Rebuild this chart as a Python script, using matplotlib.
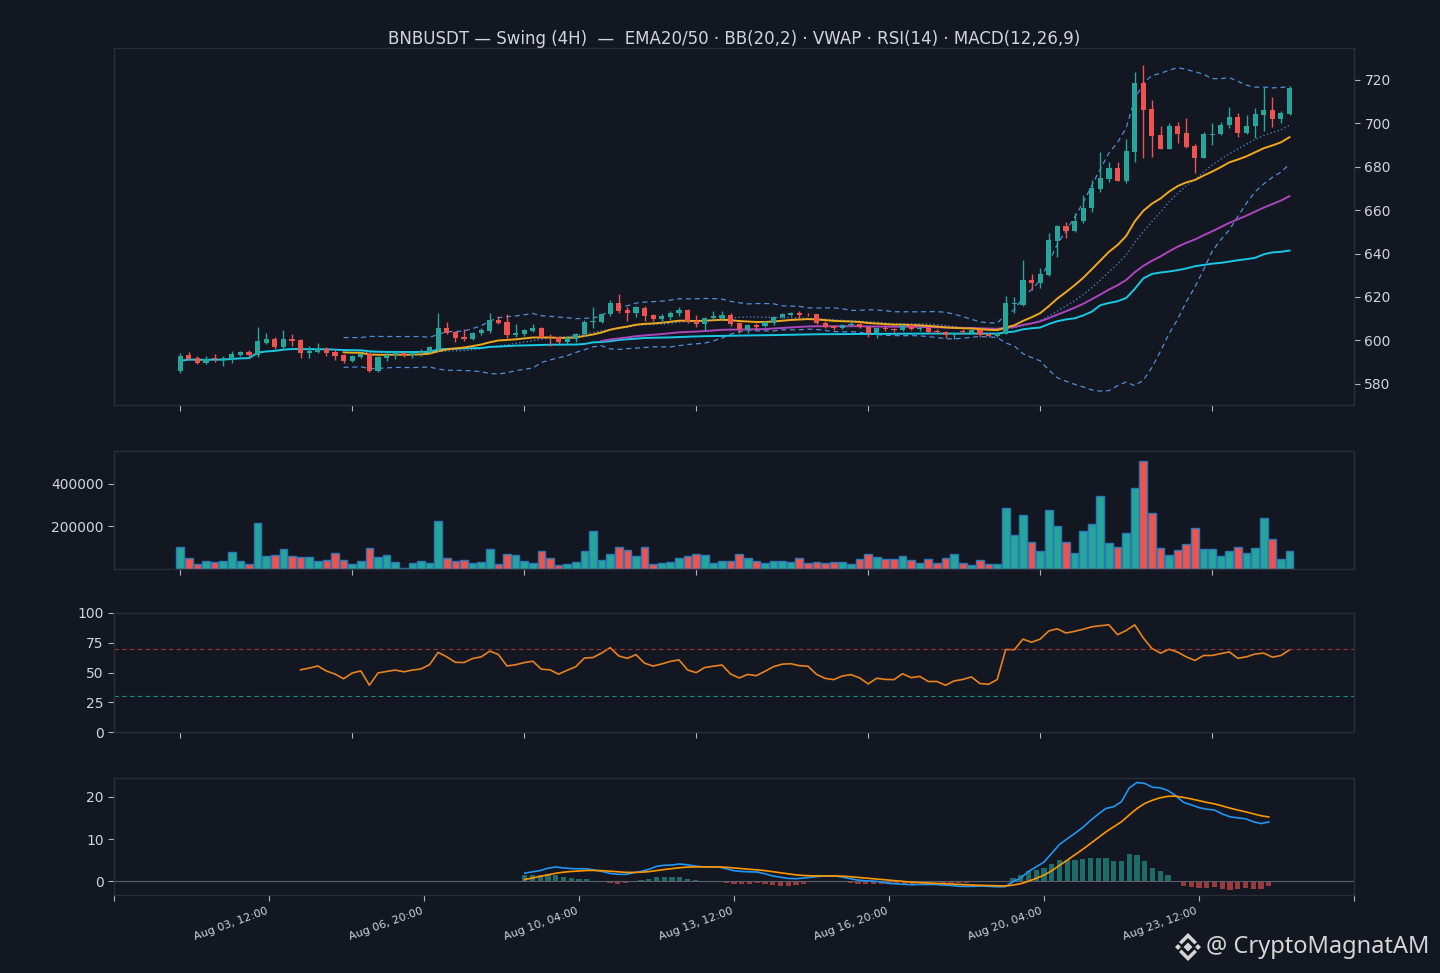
import numpy as np
import pandas as pd
import matplotlib
matplotlib.use('Agg')
import matplotlib.pyplot as plt
from matplotlib.patches import Polygon
from matplotlib.ticker import FuncFormatter

# ---------------- data (BNBUSDT 4H candles)
opens = [586.0, 593.1, 592.0, 589.4, 591.8, 591.0, 591.6, 593.1, 594.6, 593.2,
         598.9, 600.5, 596.9, 600.5, 600.0, 594.3, 594.6, 595.9, 594.6, 593.1,
         590.3, 592.2, 593.8, 585.9, 591.8, 593.2, 594.0, 593.1, 594.0, 594.8,
         595.9, 605.5, 603.8, 601.5, 600.5, 603.2, 604.1, 609.2, 608.4, 602.3,
         602.8, 604.3, 605.5, 601.7, 601.5, 599.2, 600.8, 602.8, 608.6, 608.4,
         612.0, 617.1, 614.0, 612.4, 615.0, 611.5, 609.7, 610.8, 612.4, 613.8,
         608.9, 607.4, 610.2, 610.4, 611.9, 607.8, 605.1, 606.9, 606.4, 608.0,
         610.8, 611.8, 612.6, 611.9, 612.0, 608.2, 606.5, 605.7, 607.0, 607.6,
         606.3, 603.2, 605.6, 605.3, 604.9, 606.9, 605.0, 605.8, 604.2, 603.8,
         602.3, 604.5, 603.5, 604.6, 603.0, 602.0, 603.1, 616.6, 616.3, 627.8,
         626.6, 630.1, 645.8, 652.7, 650.6, 655.0, 661.2, 669.6, 674.4, 679.3,
         673.6, 687.0, 718.8, 706.6, 694.6, 688.2, 698.8, 695.4, 689.6, 684.2,
         694.8, 695.1, 699.0, 702.8, 695.7, 698.8, 704.0, 706.2, 702.0, 704.3]
highs = [594.0, 594.5, 593.0, 592.7, 593.5, 593.0, 595.0, 595.3, 595.5, 606.3,
         603.2, 601.5, 604.6, 603.0, 600.7, 597.5, 598.9, 596.7, 595.9, 593.9,
         593.2, 594.3, 594.3, 592.8, 594.5, 595.0, 594.6, 595.0, 595.8, 597.4,
         612.4, 608.4, 604.5, 605.0, 603.9, 605.8, 612.4, 611.2, 612.0, 607.4,
         605.4, 607.4, 606.1, 603.1, 601.9, 601.9, 603.6, 609.2, 615.5, 612.8,
         618.4, 621.2, 615.5, 615.8, 615.8, 612.0, 612.3, 613.3, 615.3, 614.6,
         611.7, 610.8, 613.4, 613.3, 612.4, 608.3, 607.4, 607.8, 608.9, 611.3,
         612.8, 613.1, 613.3, 612.6, 612.3, 609.0, 607.0, 607.4, 608.8, 608.0,
         606.6, 605.8, 607.0, 605.7, 607.2, 607.4, 606.6, 606.1, 605.0, 604.2,
         603.8, 605.0, 605.0, 605.0, 603.5, 603.5, 620.4, 620.1, 637.0, 630.5,
         633.2, 649.4, 653.2, 654.7, 658.6, 667.0, 673.9, 686.7, 682.4, 682.4,
         692.7, 723.5, 726.9, 710.8, 698.8, 700.0, 700.8, 702.3, 690.5, 696.0,
         700.0, 700.8, 707.7, 704.9, 703.9, 707.0, 716.9, 712.3, 705.6, 717.2]
lows = [584.8, 591.0, 589.0, 589.0, 589.8, 588.0, 589.7, 592.8, 592.5, 592.5,
        598.2, 596.0, 596.2, 597.5, 591.8, 591.8, 594.2, 592.7, 590.9, 589.6,
        590.0, 591.8, 585.4, 585.6, 590.5, 591.6, 592.5, 591.7, 592.8, 594.3,
        595.1, 602.7, 599.2, 599.7, 600.2, 602.4, 603.2, 607.3, 601.2, 601.7,
        602.0, 603.9, 600.9, 597.4, 598.4, 598.4, 599.0, 602.0, 605.9, 608.0,
        611.2, 612.4, 608.9, 610.6, 608.9, 608.9, 608.2, 609.3, 611.0, 608.2,
        606.3, 604.8, 609.5, 609.9, 606.6, 603.5, 603.2, 605.1, 606.0, 607.2,
        610.3, 611.0, 610.4, 611.0, 607.4, 605.6, 604.7, 605.2, 606.6, 605.8,
        601.7, 601.2, 604.5, 604.0, 604.3, 604.9, 604.3, 603.2, 603.2, 601.2,
        600.6, 603.0, 602.7, 601.7, 601.7, 601.5, 602.8, 612.5, 616.0, 623.2,
        624.0, 629.5, 638.3, 647.0, 650.0, 654.2, 659.0, 668.3, 673.0, 673.2,
        672.4, 682.1, 684.2, 684.4, 688.0, 688.0, 691.1, 688.6, 677.0, 683.9,
        690.0, 694.8, 697.7, 693.6, 695.0, 693.1, 696.5, 698.5, 700.0, 703.9]
closes = [592.8, 591.6, 589.4, 591.2, 591.2, 592.0, 593.5, 594.6, 593.1, 599.5,
          600.5, 596.9, 600.5, 599.6, 594.2, 595.1, 596.2, 594.0, 592.6, 590.3,
          592.8, 593.8, 585.9, 592.3, 593.2, 594.0, 593.1, 594.0, 594.6, 596.9,
          605.5, 603.5, 600.9, 600.8, 603.5, 604.7, 609.2, 607.8, 602.4, 603.2,
          604.6, 605.5, 601.7, 601.4, 599.2, 601.2, 603.1, 608.6, 609.0, 612.3,
          617.1, 613.5, 612.4, 615.3, 611.2, 609.7, 611.1, 612.8, 613.8, 608.9,
          607.4, 610.4, 611.2, 611.9, 607.4, 605.1, 606.9, 606.2, 608.4, 610.9,
          612.3, 612.6, 611.8, 611.6, 608.2, 606.3, 605.7, 607.1, 607.6, 606.3,
          603.5, 605.5, 605.0, 604.9, 606.9, 605.4, 605.8, 603.8, 603.8, 602.3,
          603.5, 603.9, 604.6, 602.3, 602.0, 603.2, 617.1, 617.0, 627.8, 626.6,
          630.5, 646.3, 652.7, 650.6, 655.0, 661.2, 670.1, 675.0, 679.3, 673.6,
          687.3, 718.8, 706.2, 694.2, 688.2, 698.8, 695.1, 689.0, 684.2, 695.1,
          695.2, 699.3, 703.1, 695.7, 698.8, 704.3, 706.2, 702.0, 704.9, 716.2]
volumes = [105000, 50000, 25000, 39000, 35000, 39000, 78000, 39000, 22000, 215000,
           60000, 64000, 93000, 60000, 55000, 55000, 39000, 44000, 74000, 44000,
           22000, 39000, 97000, 55000, 64000, 31000, 6000, 27000, 36000, 27000,
           225000, 50000, 36000, 41000, 27000, 31000, 93000, 22000, 69000, 64000,
           39000, 27000, 83000, 50000, 17000, 22000, 31000, 83000, 177000, 41000,
           69000, 102000, 88000, 60000, 102000, 25000, 27000, 31000, 50000, 60000,
           69000, 64000, 27000, 36000, 36000, 69000, 50000, 36000, 27000, 36000,
           36000, 31000, 50000, 27000, 31000, 27000, 31000, 31000, 22000, 46000,
           69000, 55000, 46000, 46000, 60000, 41000, 27000, 46000, 27000, 50000,
           69000, 27000, 17000, 41000, 22000, 22000, 286000, 159000, 253000, 126000,
           83000, 276000, 201000, 126000, 74000, 177000, 210000, 342000, 121000, 102000,
           168000, 380000, 507000, 262000, 97000, 64000, 88000, 116000, 192000, 93000,
           93000, 60000, 83000, 102000, 74000, 97000, 239000, 140000, 46000, 83000]

start_time = '2024-08-03 12:00'
price_ticks = [580, 600, 620, 640, 660, 680, 700, 720]
vol_ticks = [200000, 400000]
rsi_ticks = [0, 25, 50, 75, 100]
macd_ticks = [0, 10, 20]

# ---------------- indicators
o = np.array(opens); h = np.array(highs); l = np.array(lows); c = np.array(closes)
v = np.array(volumes, dtype=float)
n = len(c)
x = np.arange(n)
dates = pd.date_range(start_time, periods=n, freq='4h')

close = pd.Series(c)
ema20 = close.ewm(span=20, adjust=False, min_periods=20).mean()
ema50 = close.ewm(span=50, adjust=False, min_periods=50).mean()
bb_mid = close.rolling(20).mean()
bb_sd = close.rolling(20).std()
bb_up = bb_mid + 2 * bb_sd
bb_lo = bb_mid - 2 * bb_sd
tp = (h + l + c) / 3
vwap = np.cumsum(tp * v) / np.cumsum(v)

# RSI(14), Wilder smoothing seeded with a simple average
diff = np.diff(c, prepend=np.nan)
gain = np.where(diff > 0, diff, 0.0)
loss = np.where(diff < 0, -diff, 0.0)
avg_g = np.full(n, np.nan)
avg_l = np.full(n, np.nan)
avg_g[14] = gain[1:15].mean()
avg_l[14] = loss[1:15].mean()
for t in range(15, n):
    avg_g[t] = (avg_g[t - 1] * 13 + gain[t]) / 14
    avg_l[t] = (avg_l[t - 1] * 13 + loss[t]) / 14
rsi = 100 - 100 / (1 + avg_g / avg_l)

# MACD(12,26,9), shown from the first full signal bar
ema12 = close.ewm(span=12, adjust=False).mean()
ema26 = close.ewm(span=26, adjust=False).mean()
first = 26 + 9 - 2
macd = (ema12 - ema26).where(x >= first)
signal = macd.fillna(0).ewm(span=9, adjust=False).mean().where(x >= first)
hist = macd - signal

# ---------------- style
BG = '#131722'
TXT = '#d1d4dc'
SPINE = '#2a2e39'
UP = '#26a69a'
DOWN = '#ef5350'

plt.rcParams['font.family'] = ['DejaVu Sans']
fig = plt.figure(figsize=(14.4, 9.73), dpi=100, facecolor=BG)
W, H = 1440.0, 973.0


def panel(left, top, right, bottom):
    ax = fig.add_axes([left / W, 1 - bottom / H, (right - left) / W, (bottom - top) / H])
    ax.set_facecolor(BG)
    for s in ax.spines.values():
        s.set_color(SPINE)
        s.set_linewidth(1.0)
    ax.tick_params(colors='#b2b5be', labelcolor=TXT, labelsize=10, length=4)
    return ax


ax_p = panel(114, 48, 1354, 405)
ax_v = panel(114, 451, 1354, 569)
ax_r = panel(114, 613, 1354, 732)
ax_m = panel(114, 778, 1354, 895)

up = c >= o
cols = np.where(up, UP, DOWN)

# ---- price panel
ax_p.vlines(x, l, h, colors=cols, linewidth=1.0, zorder=3)
body = np.maximum(np.abs(c - o), 0.25)
ax_p.bar(x, body, bottom=np.minimum(o, c), width=0.6, color=cols, linewidth=0, zorder=4)
ax_p.plot(x, bb_up, color='#4f8fd8', lw=0.9, ls=(0, (4, 3)), zorder=2)
ax_p.plot(x, bb_lo, color='#4f8fd8', lw=0.9, ls=(0, (4, 3)), zorder=2)
ax_p.plot(x, bb_mid, color='#4f8fd8', lw=0.9, ls=(0, (1, 2)), zorder=2)
ax_p.plot(x, vwap, color='#18c9e6', lw=1.4, zorder=2)
ax_p.plot(x, ema50, color='#ab47bc', lw=1.4, zorder=2)
ax_p.plot(x, ema20, color='#f0a81c', lw=1.4, zorder=2)
ax_p.set_xlim(-7.7, 136.5)
ax_p.set_ylim(570.2, 734.7)
ax_p.yaxis.tick_right()
ax_p.set_yticks(price_ticks)
ax_p.set_xticks(range(0, 121, 20))
ax_p.set_xticklabels([])
ax_p.set_title('BNBUSDT — Swing (4H)  —  EMA20/50 · BB(20,2) · VWAP · RSI(14) · MACD(12,26,9)',
               color=TXT, fontsize=12, pad=3)

# ---- volume panel
ax_v.bar(x, v, width=0.9, color=cols, edgecolor='#2a78b8', linewidth=1.0)
ax_v.set_xlim(-7.7, 136.5)
ax_v.set_ylim(0, 553000)
ax_v.set_yticks(vol_ticks)
ax_v.set_xticks(range(0, 121, 20))
ax_v.set_xticklabels([])

# ---- RSI panel
ax_r.plot(x, rsi, color='#e8821e', lw=1.2)
ax_r.axhline(70, color='#c0393b', lw=0.8, ls=(0, (4, 3)), alpha=0.8)
ax_r.axhline(30, color='#26a69a', lw=0.8, ls=(0, (4, 3)), alpha=0.8)
ax_r.set_xlim(-7.7, 136.5)
ax_r.set_ylim(0, 100)
ax_r.set_yticks(rsi_ticks)
ax_r.set_xticks(range(0, 121, 20))
ax_r.set_xticklabels([])

# ---- MACD panel
hcols = np.where(hist >= 0, UP, DOWN)
ax_m.bar(x, hist.fillna(0), width=0.65, color=hcols, alpha=0.6, linewidth=0)
ax_m.axhline(0, color='#5d606b', lw=0.8)
ax_m.plot(x, macd, color='#2196f3', lw=1.2)
ax_m.plot(x, signal, color='#ff9800', lw=1.2)
ax_m.set_xlim(-20, 140)
ax_m.set_ylim(-3.3, 24.5)
ax_m.set_yticks(macd_ticks)
ax_m.set_xticks(range(-20, 141, 20))


def date_fmt(val, pos):
    i = int(round(val))
    if 0 <= i < len(dates):
        return dates[i].strftime('%b %d, %H:%M')
    return ''


ax_m.xaxis.set_major_formatter(FuncFormatter(date_fmt))
for lab in ax_m.get_xticklabels():
    lab.set_rotation(20)
    lab.set_ha('right')
    lab.set_fontsize(8)

# ---- watermark (Binance-style logo + handle)
cx, cy = 1188.0, 26.0
shapes = [
    [(0, 4.5), (4.5, 0), (0, -4.5), (-4.5, 0)],
    [(-10, 3), (-7, 0), (-10, -3), (-13, 0)],
    [(10, 3), (13, 0), (10, -3), (7, 0)],
    [(-9, 5), (0, 14), (9, 5), (6.5, 2.5), (0, 9), (-6.5, 2.5)],
    [(-9, -5), (0, -14), (9, -5), (6.5, -2.5), (0, -9), (-6.5, -2.5)],
]
for pts in shapes:
    poly = [((cx + px) / W, (cy + py) / H) for px, py in pts]
    fig.patches.append(Polygon(poly, closed=True, transform=fig.transFigure,
                               facecolor='#d6d6d6', edgecolor='none'))
fig.text(1206 / W, 26 / H, '@ CryptoMagnatAM', color='#d6d6d6', fontsize=17,
         family=['Noto Sans', 'DejaVu Sans'], va='center', ha='left')

fig.savefig('out.png', dpi=100, facecolor=BG)
